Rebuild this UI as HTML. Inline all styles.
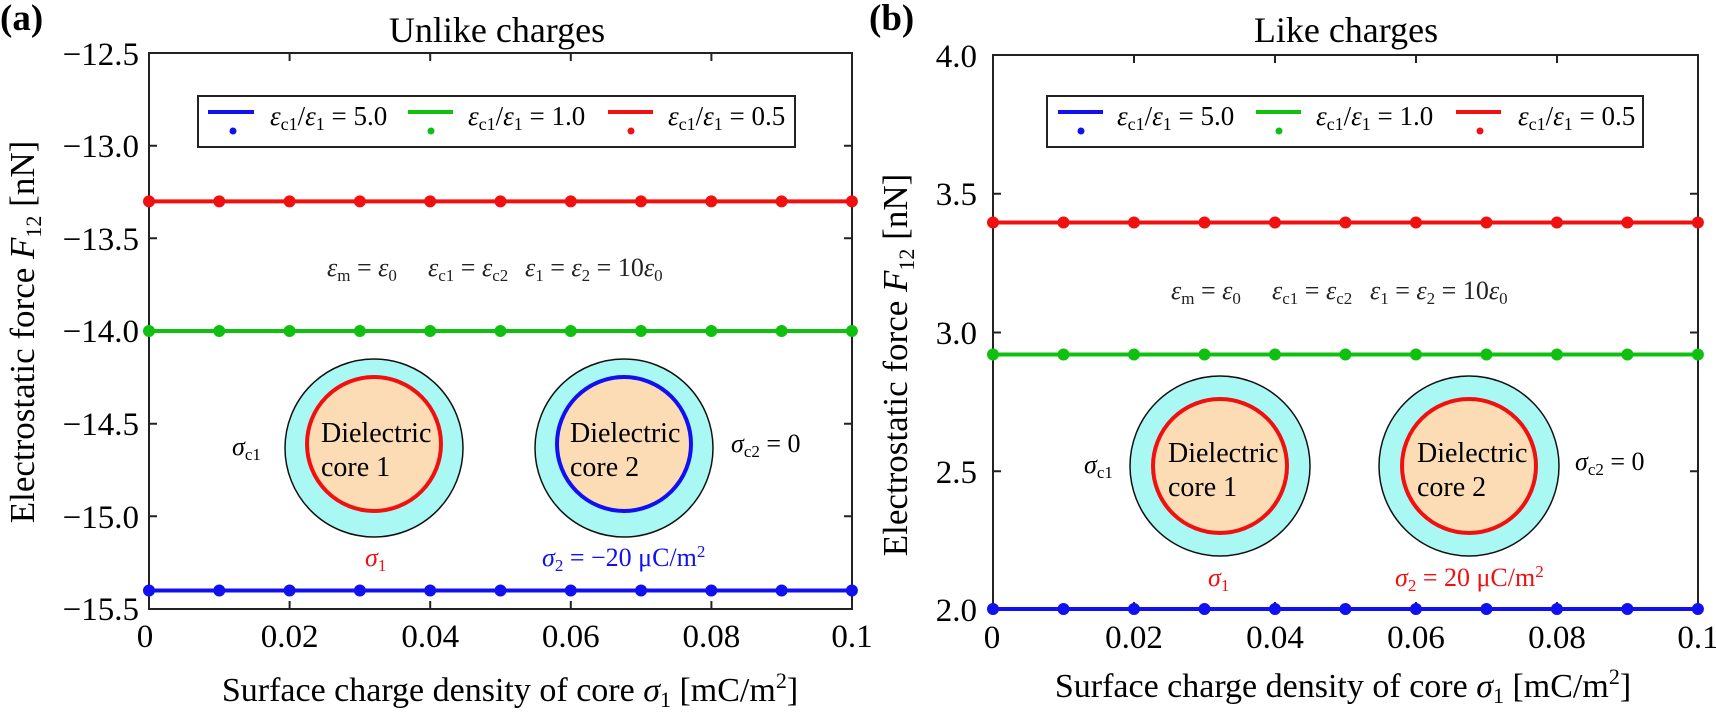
<!DOCTYPE html>
<html><head><meta charset="utf-8"><style>
html,body{margin:0;padding:0;background:#fff;}
svg{display:block;font-family:"Liberation Serif",serif;}
</style></head><body>
<svg width="1716" height="713" viewBox="0 0 1716 713" xmlns="http://www.w3.org/2000/svg">
<!-- ============ PANEL A ============ -->
<text x="0" y="30" font-size="37" font-weight="bold">(a)</text>
<text x="497" y="42" font-size="36" text-anchor="middle">Unlike charges</text>
<rect x="149" y="53" width="703" height="556" fill="none" stroke="#222" stroke-width="2"/>
<g stroke="#222" stroke-width="2">
<path d="M149 145.7h8M149 238.3h8M149 331h8M149 423.7h8M149 516.3h8M852 145.7h-8M852 238.3h-8M852 331h-8M852 423.7h-8M852 516.3h-8"/>
<path d="M289.6 609v-8M430.2 609v-8M570.8 609v-8M711.4 609v-8M289.6 53v8M430.2 53v8M570.8 53v8M711.4 53v8"/>
</g>
<g font-size="33" text-anchor="end">
<text x="139" y="65">−12.5</text><text x="139" y="157">−13.0</text><text x="139" y="250">−13.5</text>
<text x="139" y="342">−14.0</text><text x="139" y="435">−14.5</text><text x="139" y="528">−15.0</text><text x="139" y="620">−15.5</text>
</g>
<g font-size="33" text-anchor="middle">
<text x="145" y="647">0</text><text x="289.6" y="647">0.02</text><text x="430.2" y="647">0.04</text>
<text x="570.8" y="647">0.06</text><text x="711.4" y="647">0.08</text><text x="852" y="647">0.1</text>
</g>
<text x="510" y="701" font-size="34" text-anchor="middle">Surface charge density of core <tspan font-style="italic">σ</tspan><tspan font-size="22" dy="6">1</tspan><tspan dy="-6"> [mC/m</tspan><tspan font-size="22" dy="-13">2</tspan><tspan dy="13">]</tspan></text>
<text transform="translate(34,332) rotate(-90)" font-size="35" text-anchor="middle">Electrostatic force <tspan font-style="italic">F</tspan><tspan font-size="22" dy="7">12</tspan><tspan dy="-7"> [nN]</tspan></text>
<g stroke-width="4">
<line x1="149" y1="201.4" x2="852" y2="201.4" stroke="#f01010"/>
<line x1="149" y1="331" x2="852" y2="331" stroke="#10c010"/>
<line x1="149" y1="590.5" x2="852" y2="590.5" stroke="#1010f0"/>
</g>
<g stroke-width="12" stroke-linecap="round" stroke-dasharray="0 70.29">
<line x1="149" y1="201.4" x2="852.5" y2="201.4" stroke="#f01010"/>
<line x1="149" y1="331" x2="852.5" y2="331" stroke="#10c010"/>
<line x1="149" y1="590.5" x2="852.5" y2="590.5" stroke="#1010f0"/>
</g>
<rect x="198" y="96" width="597" height="51" fill="#fff" stroke="#222" stroke-width="2"/>
<g stroke-width="4"><line x1="208" y1="112" x2="254" y2="112" stroke="#1010f0"/><line x1="408" y1="112" x2="453" y2="112" stroke="#10c010"/><line x1="608" y1="112" x2="653" y2="112" stroke="#f01010"/></g>
<circle cx="233" cy="131" r="3.5" fill="#1010f0"/><circle cx="431" cy="131" r="3.5" fill="#10c010"/><circle cx="631" cy="131" r="3.5" fill="#f01010"/>
<g font-size="27">
<text x="270" y="125"><tspan font-style="italic">ε</tspan><tspan font-size="18" dy="5">c1</tspan><tspan dy="-5">/</tspan><tspan font-style="italic">ε</tspan><tspan font-size="18" dy="5">1</tspan><tspan dy="-5"> = 5.0</tspan></text>
<text x="468" y="125"><tspan font-style="italic">ε</tspan><tspan font-size="18" dy="5">c1</tspan><tspan dy="-5">/</tspan><tspan font-style="italic">ε</tspan><tspan font-size="18" dy="5">1</tspan><tspan dy="-5"> = 1.0</tspan></text>
<text x="668" y="125"><tspan font-style="italic">ε</tspan><tspan font-size="18" dy="5">c1</tspan><tspan dy="-5">/</tspan><tspan font-style="italic">ε</tspan><tspan font-size="18" dy="5">1</tspan><tspan dy="-5"> = 0.5</tspan></text>
</g>
<g font-size="26" fill="#222">
<text x="327" y="276"><tspan font-style="italic">ε</tspan><tspan font-size="17" dy="5">m</tspan><tspan dy="-5"> = </tspan><tspan font-style="italic">ε</tspan><tspan font-size="17" dy="5">0</tspan></text>
<text x="428" y="276"><tspan font-style="italic">ε</tspan><tspan font-size="17" dy="5">c1</tspan><tspan dy="-5"> = </tspan><tspan font-style="italic">ε</tspan><tspan font-size="17" dy="5">c2</tspan></text>
<text x="525" y="276"><tspan font-style="italic">ε</tspan><tspan font-size="17" dy="5">1</tspan><tspan dy="-5"> = </tspan><tspan font-style="italic">ε</tspan><tspan font-size="17" dy="5">2</tspan><tspan dy="-5"> = 10</tspan><tspan font-style="italic">ε</tspan><tspan font-size="17" dy="5">0</tspan></text>
</g>
<circle cx="374" cy="448" r="89" fill="#aaf8f4" stroke="#111" stroke-width="1.5"/>
<circle cx="374" cy="444" r="67" fill="#fcdcb4" stroke="#f01010" stroke-width="4"/>
<circle cx="624" cy="448" r="89" fill="#aaf8f4" stroke="#111" stroke-width="1.5"/>
<circle cx="624" cy="444" r="67" fill="#fcdcb4" stroke="#1010f0" stroke-width="4"/>
<g font-size="28"><text x="321" y="442">Dielectric</text><text x="321" y="476">core 1</text><text x="570" y="442">Dielectric</text><text x="570" y="476">core 2</text></g>
<text x="232" y="455" font-size="26"><tspan font-style="italic">σ</tspan><tspan font-size="17" dy="5">c1</tspan></text>
<text x="731" y="452" font-size="26"><tspan font-style="italic">σ</tspan><tspan font-size="17" dy="5">c2</tspan><tspan dy="-5"> = 0</tspan></text>
<text x="365" y="566" font-size="26" fill="#f01010"><tspan font-style="italic">σ</tspan><tspan font-size="17" dy="5">1</tspan></text>
<text x="542" y="566" font-size="26" fill="#1010f0"><tspan font-style="italic">σ</tspan><tspan font-size="17" dy="5">2</tspan><tspan dy="-5"> = −20 μC/m</tspan><tspan font-size="17" dy="-9">2</tspan></text>

<!-- ============ PANEL B ============ -->
<text x="869" y="30" font-size="37" font-weight="bold">(b)</text>
<text x="1346" y="42" font-size="36" text-anchor="middle">Like charges</text>
<rect x="993" y="55" width="705" height="555" fill="none" stroke="#222" stroke-width="2"/>
<g stroke="#222" stroke-width="2">
<path d="M993 193.75h8M993 332.5h8M993 471.25h8M1698 193.75h-8M1698 332.5h-8M1698 471.25h-8"/>
<path d="M1134 610v-8M1275 610v-8M1416 610v-8M1557 610v-8M1134 55v8M1275 55v8M1416 55v8M1557 55v8"/>
</g>
<g font-size="33" text-anchor="end">
<text x="977" y="67">4.0</text><text x="977" y="205">3.5</text><text x="977" y="344">3.0</text><text x="977" y="483">2.5</text><text x="977" y="621">2.0</text>
</g>
<g font-size="33" text-anchor="middle">
<text x="992" y="648">0</text><text x="1134" y="648">0.02</text><text x="1275" y="648">0.04</text>
<text x="1416" y="648">0.06</text><text x="1557" y="648">0.08</text><text x="1698" y="648">0.1</text>
</g>
<text x="1343" y="697" font-size="34" text-anchor="middle">Surface charge density of core <tspan font-style="italic">σ</tspan><tspan font-size="22" dy="6">1</tspan><tspan dy="-6"> [mC/m</tspan><tspan font-size="22" dy="-13">2</tspan><tspan dy="13">]</tspan></text>
<text transform="translate(907,365) rotate(-90)" font-size="35" text-anchor="middle">Electrostatic force <tspan font-style="italic">F</tspan><tspan font-size="22" dy="7">12</tspan><tspan dy="-7"> [nN]</tspan></text>
<g stroke-width="4">
<line x1="993" y1="222.5" x2="1698" y2="222.5" stroke="#f01010"/>
<line x1="993" y1="354.5" x2="1698" y2="354.5" stroke="#10c010"/>
<line x1="993" y1="609" x2="1698" y2="609" stroke="#1010f0"/>
</g>
<g stroke-width="12" stroke-linecap="round" stroke-dasharray="0 70.49">
<line x1="993" y1="222.5" x2="1698.5" y2="222.5" stroke="#f01010"/>
<line x1="993" y1="354.5" x2="1698.5" y2="354.5" stroke="#10c010"/>
<line x1="993" y1="609" x2="1698.5" y2="609" stroke="#1010f0"/>
</g>
<rect x="1047" y="96" width="596" height="51" fill="#fff" stroke="#222" stroke-width="2"/>
<g stroke-width="4"><line x1="1058" y1="112" x2="1103" y2="112" stroke="#1010f0"/><line x1="1256" y1="112" x2="1301" y2="112" stroke="#10c010"/><line x1="1456" y1="112" x2="1501" y2="112" stroke="#f01010"/></g>
<circle cx="1081" cy="131" r="3.5" fill="#1010f0"/><circle cx="1279" cy="131" r="3.5" fill="#10c010"/><circle cx="1480" cy="131" r="3.5" fill="#f01010"/>
<g font-size="27">
<text x="1117" y="125"><tspan font-style="italic">ε</tspan><tspan font-size="18" dy="5">c1</tspan><tspan dy="-5">/</tspan><tspan font-style="italic">ε</tspan><tspan font-size="18" dy="5">1</tspan><tspan dy="-5"> = 5.0</tspan></text>
<text x="1316" y="125"><tspan font-style="italic">ε</tspan><tspan font-size="18" dy="5">c1</tspan><tspan dy="-5">/</tspan><tspan font-style="italic">ε</tspan><tspan font-size="18" dy="5">1</tspan><tspan dy="-5"> = 1.0</tspan></text>
<text x="1518" y="125"><tspan font-style="italic">ε</tspan><tspan font-size="18" dy="5">c1</tspan><tspan dy="-5">/</tspan><tspan font-style="italic">ε</tspan><tspan font-size="18" dy="5">1</tspan><tspan dy="-5"> = 0.5</tspan></text>
</g>
<g font-size="26" fill="#222">
<text x="1171" y="299"><tspan font-style="italic">ε</tspan><tspan font-size="17" dy="5">m</tspan><tspan dy="-5"> = </tspan><tspan font-style="italic">ε</tspan><tspan font-size="17" dy="5">0</tspan></text>
<text x="1272" y="299"><tspan font-style="italic">ε</tspan><tspan font-size="17" dy="5">c1</tspan><tspan dy="-5"> = </tspan><tspan font-style="italic">ε</tspan><tspan font-size="17" dy="5">c2</tspan></text>
<text x="1370" y="299"><tspan font-style="italic">ε</tspan><tspan font-size="17" dy="5">1</tspan><tspan dy="-5"> = </tspan><tspan font-style="italic">ε</tspan><tspan font-size="17" dy="5">2</tspan><tspan dy="-5"> = 10</tspan><tspan font-style="italic">ε</tspan><tspan font-size="17" dy="5">0</tspan></text>
</g>
<circle cx="1220" cy="466" r="90" fill="#aaf8f4" stroke="#111" stroke-width="1.5"/>
<circle cx="1220" cy="466" r="67" fill="#fcdcb4" stroke="#f01010" stroke-width="4"/>
<circle cx="1469" cy="466" r="90" fill="#aaf8f4" stroke="#111" stroke-width="1.5"/>
<circle cx="1469" cy="466" r="67" fill="#fcdcb4" stroke="#f01010" stroke-width="4"/>
<g font-size="28"><text x="1168" y="462">Dielectric</text><text x="1168" y="496">core 1</text><text x="1417" y="462">Dielectric</text><text x="1417" y="496">core 2</text></g>
<text x="1084" y="473" font-size="26"><tspan font-style="italic">σ</tspan><tspan font-size="17" dy="5">c1</tspan></text>
<text x="1575" y="470" font-size="26"><tspan font-style="italic">σ</tspan><tspan font-size="17" dy="5">c2</tspan><tspan dy="-5"> = 0</tspan></text>
<text x="1208" y="586" font-size="26" fill="#f01010"><tspan font-style="italic">σ</tspan><tspan font-size="17" dy="5">1</tspan></text>
<text x="1395" y="586" font-size="26" fill="#f01010"><tspan font-style="italic">σ</tspan><tspan font-size="17" dy="5">2</tspan><tspan dy="-5"> = 20 μC/m</tspan><tspan font-size="17" dy="-9">2</tspan></text>
</svg>
</body></html>
